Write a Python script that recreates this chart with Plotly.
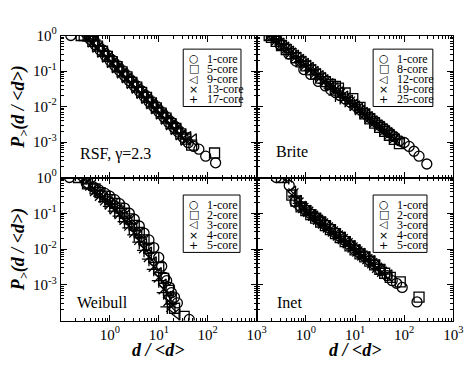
import plotly.graph_objects as go

# ---------------- data ----------------
rsf_labels = ["1-core", "5-core", "9-core", "13-core", "17-core"]
rsf_x1 = [0.16, 0.4, 0.5, 0.63, 0.8, 1.0, 1.26, 1.58, 2.0, 2.5, 3.16, 4.0, 5.0, 6.3, 7.9, 10, 12.6, 15.8, 20, 25, 31.6, 40, 52, 66, 91, 145]
rsf_y1 = [1.0, 0.77, 0.55, 0.39, 0.28, 0.20, 0.144, 0.103, 0.074, 0.053, 0.038, 0.027, 0.0195, 0.0139, 0.0100, 0.0071, 0.0051, 0.0036, 0.0026, 0.0019, 0.00134, 0.00096, 0.00075, 0.00063, 0.0004, 0.00026]
rsf_x2 = [0.26, 0.30, 0.36, 0.45, 0.56, 0.71, 0.89, 1.12, 1.41, 1.78, 2.24, 2.82, 3.55, 4.47, 5.62, 7.08, 8.9, 11.2, 14.1, 17.8, 22.4, 28.2, 35.5, 47, 138]
rsf_y2 = [1.0, 1.0, 0.96, 0.69, 0.50, 0.36, 0.26, 0.185, 0.132, 0.094, 0.068, 0.048, 0.035, 0.025, 0.018, 0.0127, 0.0092, 0.0065, 0.0047, 0.0033, 0.0024, 0.0017, 0.0012, 0.00082, 0.00049]
rsf_x3 = [0.33, 0.4, 0.5, 0.63, 0.8, 1.0, 1.26, 1.58, 2.0, 2.5, 3.16, 4.0, 5.0, 6.3, 7.9, 10, 12.6, 15.8, 20, 25, 31.6, 40, 52]
rsf_y3 = [1.0, 0.88, 0.63, 0.45, 0.32, 0.23, 0.166, 0.118, 0.085, 0.061, 0.044, 0.031, 0.022, 0.016, 0.0115, 0.0082, 0.0059, 0.0041, 0.0030, 0.0022, 0.00155, 0.00135, 0.00117]
rsf_x4 = [0.36, 0.45, 0.56, 0.71, 0.89, 1.12, 1.41, 1.78, 2.24, 2.82, 3.55, 4.47, 5.62, 7.08, 8.9, 11.2, 14.1, 17.8, 22.4, 28.2, 35.5]
rsf_y4 = [1.0, 0.64, 0.46, 0.33, 0.24, 0.17, 0.121, 0.086, 0.063, 0.044, 0.032, 0.023, 0.0166, 0.0117, 0.0085, 0.006, 0.0043, 0.003, 0.0022, 0.00156, 0.0011]
rsf_x5 = [0.38, 0.47, 0.6, 0.75, 0.94, 1.19, 1.5, 1.88, 2.37, 3.0, 3.76, 4.73, 5.96, 7.5, 9.4, 11.9, 15, 18.8, 23.7, 29.8]
rsf_y5 = [1.0, 0.74, 0.52, 0.37, 0.27, 0.191, 0.137, 0.099, 0.071, 0.050, 0.036, 0.0258, 0.0185, 0.0132, 0.0095, 0.0068, 0.0049, 0.0035, 0.0025, 0.0018]

brite_labels = ["1-core", "8-core", "12-core", "19-core", "25-core"]
brite_x1 = [0.2, 0.3, 0.45, 0.63, 0.91, 1.26, 1.8, 2.5, 3.2, 4.0, 5.0, 6.3, 7.9, 10, 12.6, 15.8, 20, 25, 31.6, 40, 50, 63, 80, 100, 126, 158, 200, 288]
brite_y1 = [1.0, 0.55, 0.3, 0.19, 0.11, 0.08, 0.051, 0.038, 0.030, 0.0247, 0.0202, 0.0164, 0.0133, 0.0107, 0.0083, 0.0065, 0.0050, 0.0039, 0.0030, 0.00233, 0.00182, 0.00141, 0.00108, 0.00097, 0.00075, 0.00055, 0.0004, 0.00024]
brite_x2 = [0.18, 0.2, 0.25, 0.32, 0.4, 0.5, 0.63, 0.8, 1.0, 1.26, 1.58, 2.0, 2.5, 3.16, 4.0, 4.6, 6.3, 9.0, 12.6, 15.8, 20, 25, 31.6, 40, 50, 63, 80]
brite_y2 = [1.0, 0.885, 0.685, 0.516, 0.40, 0.309, 0.236, 0.18, 0.139, 0.107, 0.082, 0.063, 0.05, 0.042, 0.037, 0.033, 0.024, 0.0166, 0.0095, 0.0062, 0.0045, 0.0034, 0.0026, 0.0020, 0.00155, 0.00118, 0.0009]
brite_x3 = [0.2, 0.25, 0.32, 0.4, 0.5, 0.63, 0.8, 1.0, 1.26, 1.58, 2.0, 2.5, 3.16, 4.0, 5.0, 6.3, 7.9, 10, 12.6, 15.8, 20, 25, 31.6, 40, 50, 63, 80]
brite_y3 = [1.0, 0.774, 0.583, 0.452, 0.349, 0.267, 0.203, 0.157, 0.121, 0.093, 0.071, 0.055, 0.042, 0.032, 0.0247, 0.0189, 0.0146, 0.0112, 0.0085, 0.0066, 0.0050, 0.0038, 0.0029, 0.0023, 0.00175, 0.00133, 0.00102]
brite_x4 = [0.19, 0.25, 0.32, 0.4, 0.5, 0.63, 0.8, 1.0, 1.26, 1.58, 2.0, 2.5, 3.16, 4.0, 5.0, 6.3, 7.9, 10, 12.6, 15.8, 20, 25, 31.6, 40, 50, 63]
brite_y4 = [1.0, 0.726, 0.547, 0.424, 0.328, 0.25, 0.191, 0.147, 0.113, 0.087, 0.067, 0.051, 0.039, 0.030, 0.0232, 0.0177, 0.0137, 0.0105, 0.0080, 0.0061, 0.0047, 0.0036, 0.0028, 0.0021, 0.00164, 0.00125]
brite_x5 = [0.21, 0.25, 0.32, 0.4, 0.5, 0.63, 0.8, 1.0, 1.26, 1.58, 2.0, 2.5, 3.16, 4.0, 5.0, 6.3, 7.9, 10, 12.6, 15.8, 20, 25, 31.6, 40, 50]
brite_y5 = [1.0, 0.8, 0.58, 0.43, 0.33, 0.25, 0.185, 0.14, 0.105, 0.08, 0.06, 0.045, 0.033, 0.021, 0.018, 0.015, 0.012, 0.0096, 0.0075, 0.0058, 0.0045, 0.0035, 0.0027, 0.0021, 0.0016]

wb_labels = ["1-core", "2-core", "3-core", "4-core", "5-core"]
wb_x1 = [0.15, 0.33, 0.46, 0.6, 0.8, 1.0, 1.26, 1.58, 2.0, 2.5, 3.16, 4.0, 5.0, 6.3, 7.9, 10, 11.5, 13.2, 14.5, 16.6, 18.2, 21, 24, 42]
wb_y1 = [1.0, 0.69, 0.55, 0.45, 0.36, 0.3, 0.24, 0.185, 0.14, 0.10, 0.068, 0.044, 0.028, 0.018, 0.011, 0.0058, 0.0033, 0.0016, 0.0013, 0.00085, 0.0006, 0.00045, 0.00031, 0.000107]
wb_x2 = [0.23, 0.35, 0.5, 0.63, 0.8, 1.0, 1.26, 1.58, 2.0, 2.5, 3.16, 4.0, 5.0, 6.3, 7.9, 10, 12.6, 15.8, 18, 21, 33]
wb_y2 = [1.0, 0.66, 0.48, 0.38, 0.3, 0.24, 0.19, 0.14, 0.1, 0.07, 0.046, 0.029, 0.018, 0.0105, 0.0058, 0.003, 0.0015, 0.0007, 0.0004, 0.00022, 0.00013]
wb_x3 = [0.26, 0.35, 0.5, 0.63, 0.8, 1.0, 1.26, 1.58, 2.0, 2.5, 3.16, 4.0, 5.0, 6.3, 7.9, 10, 12.6, 15.8, 19, 24]
wb_y3 = [1.0, 0.62, 0.44, 0.34, 0.26, 0.2, 0.155, 0.115, 0.08, 0.055, 0.036, 0.022, 0.0135, 0.0078, 0.0042, 0.0021, 0.001, 0.00045, 0.00022, 0.00015]
wb_x4 = [0.3, 0.4, 0.5, 0.63, 0.8, 1.0, 1.26, 1.58, 2.0, 2.5, 3.16, 4.0, 5.0, 6.3, 7.9, 10, 12.6, 15.8, 18]
wb_y4 = [1.0, 0.6, 0.42, 0.31, 0.23, 0.175, 0.13, 0.095, 0.066, 0.045, 0.029, 0.018, 0.0105, 0.006, 0.0032, 0.0016, 0.00075, 0.00035, 0.00024]
wb_x5 = [0.33, 0.4, 0.5, 0.63, 0.8, 1.0, 1.26, 1.58, 2.0, 2.5, 3.16, 4.0, 5.0, 6.3, 7.9, 10, 12.6, 15]
wb_y5 = [1.0, 0.66, 0.44, 0.3, 0.21, 0.155, 0.115, 0.083, 0.058, 0.039, 0.025, 0.0155, 0.0092, 0.0052, 0.0027, 0.0013, 0.0006, 0.00024]

inet_labels = ["1-core", "2-core", "3-core", "4-core", "5-core"]
inet_x1 = [0.25, 0.46, 0.6, 0.75, 1.0, 1.25, 1.5, 1.75, 2.0, 2.5, 3.16, 4.0, 5.0, 6.3, 7.9, 10, 12.6, 15.8, 20, 25, 33, 45, 57, 70, 91, 182]
inet_y1 = [1.0, 0.6, 0.21, 0.16, 0.12, 0.097, 0.08, 0.07, 0.06, 0.047, 0.036, 0.028, 0.022, 0.017, 0.0125, 0.0095, 0.0075, 0.0062, 0.0047, 0.0036, 0.0025, 0.0018, 0.0013, 0.0011, 0.00084, 0.00033]
inet_x2 = [0.32, 0.52, 0.63, 0.8, 1.0, 1.26, 1.58, 2.0, 2.5, 3.16, 4.0, 5.0, 6.3, 7.9, 10, 12.6, 15.8, 20, 25, 32, 40, 52, 83, 200]
inet_y2 = [1.0, 0.32, 0.22, 0.15, 0.118, 0.092, 0.073, 0.057, 0.045, 0.035, 0.027, 0.021, 0.016, 0.0122, 0.0094, 0.0073, 0.006, 0.0046, 0.0036, 0.0027, 0.0021, 0.0016, 0.0012, 0.00045]
inet_x3 = [0.4, 0.55, 0.72, 0.9, 1.12, 1.41, 1.78, 2.24, 2.82, 3.55, 4.47, 5.62, 7.08, 8.9, 11.2, 14.1, 17.8, 22.4, 28.2, 35.5, 50]
inet_y3 = [1.0, 0.4, 0.22, 0.15, 0.115, 0.088, 0.069, 0.054, 0.042, 0.033, 0.026, 0.0205, 0.0155, 0.012, 0.0092, 0.0072, 0.0058, 0.0045, 0.0034, 0.0026, 0.0018]
inet_x4 = [0.42, 0.56, 0.71, 0.89, 1.12, 1.41, 1.78, 2.24, 2.82, 3.55, 4.47, 5.62, 7.08, 8.9, 11.2, 14.1, 17.8, 22.4, 28.2, 35.5]
inet_y4 = [1.0, 0.36, 0.2, 0.14, 0.11, 0.085, 0.066, 0.052, 0.04, 0.031, 0.024, 0.019, 0.0145, 0.011, 0.0085, 0.0066, 0.0052, 0.004, 0.003, 0.0023]
inet_x5 = [0.45, 0.6, 0.75, 0.95, 1.19, 1.5, 1.88, 2.37, 3.0, 3.76, 4.73, 5.96, 7.5, 9.4, 11.9, 15, 18.8, 23.7, 29.8, 40]
inet_y5 = [1.0, 0.3, 0.19, 0.13, 0.1, 0.078, 0.062, 0.048, 0.037, 0.029, 0.023, 0.0175, 0.0135, 0.0103, 0.008, 0.0062, 0.0049, 0.0038, 0.0029, 0.002]

panel_names = ["RSF, \u03b3=2.3", "Brite", "Weibull", "Inet"]
x_tickvals = [0.1, 1, 10, 100, 1000]
x_ticktext = ["", "10<sup>0</sup>", "10<sup>1</sup>", "10<sup>2</sup>", "10<sup>3</sup>"]
y_tickvals = [1e-4, 1e-3, 1e-2, 1e-1, 1]
y_ticktext = ["", "10<sup>-3</sup>", "10<sup>-2</sup>", "10<sup>-1</sup>", "10<sup>0</sup>"]
x_title = "<b><i>d / &lt;d&gt;</i></b>"
y_title = "<b><i>P<sub>&gt;</sub>(d / &lt;d&gt;)</i></b>"

# ---------------- figure ----------------
W, H = 474, 366
SERIF = "Liberation Serif"
symbols = ["circle-open", "square-open", "triangle-left-open", "x-thin-open", "cross-thin-open"]
glyphs = ["\u25cb", "\u25a1", "\u25c1", "\u00d7", "+"]

panels = [
    (rsf_labels, [(rsf_x1, rsf_y1), (rsf_x2, rsf_y2), (rsf_x3, rsf_y3), (rsf_x4, rsf_y4), (rsf_x5, rsf_y5)]),
    (brite_labels, [(brite_x1, brite_y1), (brite_x2, brite_y2), (brite_x3, brite_y3), (brite_x4, brite_y4), (brite_x5, brite_y5)]),
    (wb_labels, [(wb_x1, wb_y1), (wb_x2, wb_y2), (wb_x3, wb_y3), (wb_x4, wb_y4), (wb_x5, wb_y5)]),
    (inet_labels, [(inet_x1, inet_y1), (inet_x2, inet_y2), (inet_x3, inet_y3), (inet_x4, inet_y4), (inet_x5, inet_y5)]),
]

# pixel layout of the four plot areas: (left, right, top, bottom)
boxes = [(54, 254, 18, 164), (254, 455, 18, 164), (54, 254, 164, 311), (254, 455, 164, 311)]

fig = go.Figure()
for p, (labels, series) in enumerate(panels):
    ax = "" if p == 0 else str(p + 1)
    for s, (xs, ys) in enumerate(series):
        fig.add_trace(go.Scatter(
            x=xs, y=ys, mode="markers", name=labels[s], showlegend=False,
            xaxis="x" + ax, yaxis="y" + ax,
            marker=dict(symbol=symbols[s], size=10, color="black",
                        line=dict(color="black", width=1.3)),
        ))

minor_x = [m * 10 ** e for e in range(-1, 3) for m in range(2, 10)]
minor_y = [m * 10 ** e for e in range(-4, 0) for m in range(2, 10)]

def px2x(v):
    return v / W

def px2y(v):
    return 1 - v / H

tickfont = dict(family=SERIF, size=15, color="black")
layout = dict(
    width=W, height=H, margin=dict(l=0, r=0, t=0, b=0),
    paper_bgcolor="white", plot_bgcolor="white", showlegend=False,
)
annotations = []
shapes = []
for p in range(4):
    l, r, t, b = boxes[p]
    ax = "" if p == 0 else str(p + 1)
    bottom_row = p >= 2
    left_col = p % 2 == 0
    xa = dict(
        type="log", range=[-1, 3], domain=[px2x(l), px2x(r)],
        anchor="y" + ax, showline=True, linecolor="black", linewidth=1,
        mirror="allticks", ticks="inside", ticklen=6, tickwidth=1, tickcolor="black",
        tickmode="array", tickvals=x_tickvals, ticktext=x_ticktext,
        showticklabels=bottom_row, tickfont=tickfont,
        minor=dict(ticks="inside", ticklen=3, tickcolor="black", tickmode="array", tickvals=minor_x),
        showgrid=False, zeroline=False,
    )
    ya = dict(
        type="log", range=[-4, 0], domain=[px2y(b), px2y(t)],
        anchor="x" + ax, showline=True, linecolor="black", linewidth=1,
        mirror="allticks", ticks="inside", ticklen=6, tickwidth=1, tickcolor="black",
        tickmode="array", tickvals=y_tickvals, ticktext=y_ticktext,
        showticklabels=left_col, tickfont=tickfont,
        minor=dict(ticks="inside", ticklen=3, tickcolor="black", tickmode="array", tickvals=minor_y),
        showgrid=False, zeroline=False,
    )
    if left_col:
        ya["title"] = dict(text=y_title, font=dict(family=SERIF, size=18, color="black"), standoff=9)
    layout["xaxis" + ax] = xa
    layout["yaxis" + ax] = ya
    if bottom_row:
        annotations.append(dict(text=x_title, x=px2x((l + r) / 2), y=px2y(341), xref="paper", yref="paper",
                                xanchor="center", yanchor="middle", showarrow=False, borderpad=0,
                                font=dict(family=SERIF, size=18, color="black")))

# panel names
name_pos = [(72, 140), (272, 137), (68, 292), (273, 292)]
for p, (nx, ny) in enumerate(name_pos):
    annotations.append(dict(text=panel_names[p], x=px2x(nx), y=px2y(ny), xref="paper", yref="paper",
                            xanchor="left", yanchor="middle", showarrow=False,
                            font=dict(family=SERIF, size=16, color="black")))

# legend boxes (drawn as shapes + text so the compact Grace-style spacing is kept)
legend_boxes = [(179, 238, 32, 91), (373, 434, 32, 91), (179, 237, 182, 241), (373, 428, 182, 241)]
for p, (labels, _) in enumerate(panels):
    l, r, t, b = legend_boxes[p]
    shapes.append(dict(type="rect", xref="paper", yref="paper",
                       x0=px2x(l), x1=px2x(r), y0=px2y(b), y1=px2y(t),
                       line=dict(color="black", width=1), fillcolor="white", layer="above"))
    for s in range(5):
        ry = t + 10 + 10.4 * s
        annotations.append(dict(text=glyphs[s], x=px2x(l + 11), y=px2y(ry), xref="paper", yref="paper",
                                xanchor="center", yanchor="middle", showarrow=False, borderpad=0,
                                font=dict(family="DejaVu Sans", size=11, color="black")))
        annotations.append(dict(text=labels[s], x=px2x(l + 23), y=px2y(ry), xref="paper", yref="paper",
                                xanchor="left", yanchor="middle", showarrow=False, borderpad=0,
                                font=dict(family=SERIF, size=12, color="black")))

layout["annotations"] = annotations
layout["shapes"] = shapes
fig.update_layout(**layout)
fig.write_html("out.html")
